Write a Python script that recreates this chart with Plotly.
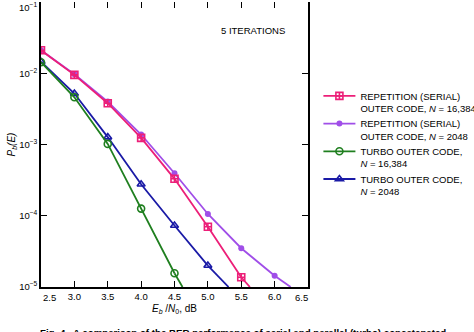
import plotly.graph_objects as go

# ---- data ----
ebn0_rep_16384 = [2.5, 3.0, 3.5, 4.0, 4.5, 5.0, 5.5]
pb_rep_16384 = [2.1e-2, 9.5e-3, 3.8e-3, 1.24e-3, 3.3e-4, 7.0e-5, 1.37e-5]
tail_rep_16384 = ([5.5, 5.63], [1.37e-5, 1.0e-5])

ebn0_rep_2048 = [2.5, 3.0, 3.5, 4.0, 4.5, 5.0, 5.5, 6.0]
pb_rep_2048 = [2.1e-2, 9.7e-3, 4.0e-3, 1.38e-3, 3.95e-4, 1.06e-4, 3.5e-5, 1.44e-5]
tail_rep_2048 = ([6.0, 6.24], [1.44e-5, 1.0e-5])

ebn0_turbo_16384 = [2.5, 3.0, 3.5, 4.0, 4.5]
pb_turbo_16384 = [1.43e-2, 4.6e-3, 1.02e-3, 1.26e-4, 1.56e-5]
tail_turbo_16384 = ([4.5, 4.62], [1.56e-5, 1.0e-5])

ebn0_turbo_2048 = [2.5, 3.0, 3.5, 4.0, 4.5, 5.0]
pb_turbo_2048 = [1.45e-2, 5.2e-3, 1.27e-3, 2.77e-4, 7.3e-5, 2.0e-5]
tail_turbo_2048 = ([5.0, 5.31], [2.0e-5, 1.0e-5])

names = [
    "REPETITION (SERIAL)<br>OUTER CODE, <i>N</i> = 16,384",
    "REPETITION (SERIAL)<br>OUTER CODE, <i>N</i> = 2048",
    "TURBO OUTER CODE,<br><i>N</i> = 16,384",
    "TURBO OUTER CODE,<br><i>N</i> = 2048",
]
x_tick_vals = [3.0, 3.5, 4.0, 4.5, 5.0, 5.5, 6.0]
x_tick_text = ["3.0", "3.5", "4.0", "4.5", "5.0", "5.5", "6.0"]
x_end_vals = [2.5, 6.5]
x_end_text = ["2.5", "6.5"]
y_tick_vals = [1e-5, 1e-4, 1e-3, 1e-2]
y_tick_text = ["10<sup>−5</sup>", "10<sup>−4</sup>", "10<sup>−3</sup>", "10<sup>−2</sup>"]
y_top_val = 1e-1
y_top_text = "10<sup>−1</sup>"

PINK = "#ec1f78"
PURPLE = "#a04ee8"
GREEN = "#1f7f1f"
BLUE = "#1a1aa6"
FONT = "Liberation Sans, Arial, sans-serif"

fig = go.Figure()

def add_series(x, y, tail, name, color, symbol, size, rank, mline=1.6):
    fig.add_trace(go.Scatter(
        x=tail[0], y=tail[1], mode="lines", showlegend=False,
        line=dict(color=color, width=1.8), hoverinfo="skip"))
    fig.add_trace(go.Scatter(
        x=x, y=y, mode="lines+markers", name=name, legendrank=rank,
        line=dict(color=color, width=1.8),
        marker=dict(symbol=symbol, size=size, color=color,
                    line=dict(color=color, width=mline))))

add_series(ebn0_rep_2048, pb_rep_2048, tail_rep_2048, names[1], PURPLE, "circle", 6, 2, 0)
add_series(ebn0_rep_16384, pb_rep_16384, tail_rep_16384, names[0], PINK, "square-cross-open", 7, 1)
add_series(ebn0_turbo_2048, pb_turbo_2048, tail_turbo_2048, names[3], BLUE, "triangle-up-open", 7, 4)
add_series(ebn0_turbo_16384, pb_turbo_16384, tail_turbo_16384, names[2], GREEN, "circle-open", 7, 3)

# invisible helper so the top tick axis is drawn
fig.add_trace(go.Scatter(x=ebn0_rep_16384, y=pb_rep_16384, xaxis="x2", yaxis="y",
                         mode="lines", line=dict(width=0, color="rgba(0,0,0,0)"),
                         showlegend=False, hoverinfo="skip"))

annotations = [
    dict(text="5 ITERATIONS", x=0.795, y=0.899, xref="paper", yref="paper",
         xanchor="center", yanchor="middle",
         showarrow=False, font=dict(size=9.5, color="black", family=FONT)),
    dict(text="<b>Fig. 4.  A comparison of the BER performance of serial and parallel (turbo) concatenated</b>",
         x=-0.01, y=-0.135, xref="paper", yref="paper", xanchor="left", yanchor="top",
         showarrow=False, font=dict(size=9.7, color="black", family=FONT)),
    dict(text=y_top_text, x=0, y=-1, xref="paper", yref="y", xanchor="right",
         xshift=-2, yshift=-5, showarrow=False,
         font=dict(size=9.5, color="black", family=FONT)),
]
shifts = [8, -7]
for v, t, s in zip(x_end_vals, x_end_text, shifts):
    annotations.append(dict(text=t, x=v, y=0, xref="x", yref="paper",
                            xanchor="center", yanchor="top",
                            yshift=-3, xshift=s, showarrow=False,
                            font=dict(size=9.5, color="black", family=FONT)))

tick_common = dict(ticks="inside", ticklen=6, tickwidth=1, tickcolor="black",
                   showgrid=False, zeroline=False)

fig.update_layout(
    width=474, height=332,
    margin=dict(l=41, r=166, t=2, b=45, autoexpand=False),
    paper_bgcolor="white", plot_bgcolor="white",
    font=dict(family=FONT, size=9.5, color="black"),
    showlegend=True,
    legend=dict(x=1.039, y=0.715, xanchor="left", yanchor="top",
                font=dict(size=9.5, family=FONT), valign="top",
                bgcolor="rgba(0,0,0,0)", tracegroupgap=0, itemwidth=32),
    annotations=annotations,
    xaxis=dict(
        range=[2.5, 6.5], tickmode="array", tickvals=x_tick_vals, ticktext=x_tick_text,
        showline=True, linecolor="black", linewidth=1.6, mirror=False,
        tickfont=dict(size=9.5, family=FONT),
        title=dict(text="<i>E</i><sub><i>b</i></sub> /<i>N</i><sub>0</sub>, dB",
                   font=dict(size=10, family=FONT), standoff=4),
        **tick_common),
    xaxis2=dict(
        overlaying="x", side="top", anchor="y", range=[2.5, 6.5],
        tickmode="array", tickvals=x_tick_vals, showticklabels=False,
        showline=False, **tick_common),
    yaxis=dict(
        type="log", range=[-5, -1], tickmode="array", tickvals=y_tick_vals,
        ticktext=y_tick_text,
        showline=True, linecolor="black", linewidth=1.6, mirror="ticks",
        tickfont=dict(size=9.5, family=FONT),
        title=dict(text="<i>P</i><sub><i>b</i></sub><i>(E)</i>",
                   font=dict(size=10, family=FONT), standoff=2),
        **tick_common),
)

fig.write_html("out.html")
